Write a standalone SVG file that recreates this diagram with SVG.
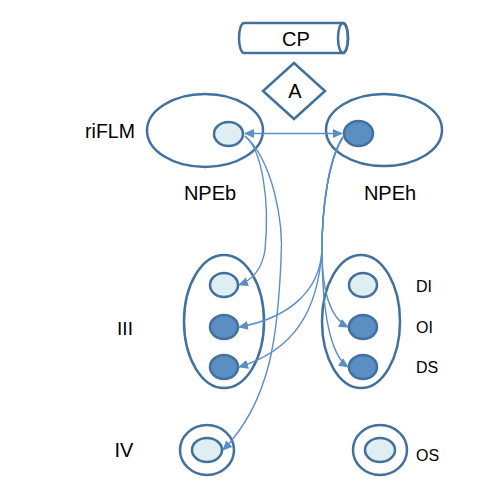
<svg xmlns="http://www.w3.org/2000/svg" width="500" height="493" viewBox="0 0 500 493">
<defs>
<style>
.o{fill:none;stroke:#41719c;stroke-width:2.5}
.lt{fill:#deeef3;stroke:#41719c;stroke-width:2.5}
.dk{fill:#5b8ec2;stroke:#41719c;stroke-width:2.5}
.c{fill:none;stroke:#5b8ec6;stroke-width:1.4}
.t{font-family:"Liberation Sans",Arial,sans-serif;fill:#000}
</style>
<marker id="ah" viewBox="0 0 10 10" refX="9" refY="5" markerWidth="10" markerHeight="10" markerUnits="userSpaceOnUse" orient="auto-start-reverse">
<path d="M0,0.5 L10,5 L0,9.5 Z" fill="#5b8ec6"/>
</marker>
</defs>
<rect width="500" height="493" fill="#fff"/>
<g id="CP">
<path class="o" fill="#fff" d="M244,23 L343,23 A5,15 0 0 1 343,53 L244,53 A5,15 0 0 1 244,23 Z"/>
<ellipse class="o" cx="343" cy="38" rx="5" ry="15"/>
<text class="t" x="296" y="46" font-size="20" text-anchor="middle">CP</text>
</g>
<g id="A">
<path class="o" d="M294,63 L325,91 L294,119 L263,91 Z"/>
<text class="t" x="295" y="98" font-size="20" text-anchor="middle">A</text>
</g>
<g id="riFLM-label"><text class="t" x="110" y="138" font-size="19.5" text-anchor="middle">riFLM</text></g>
<g id="NPEb">
<ellipse class="o" cx="205" cy="130.5" rx="58" ry="36.5"/>
<ellipse class="lt" cx="228.5" cy="134" rx="14.5" ry="12"/>
<text class="t" x="210" y="200" font-size="20" text-anchor="middle">NPEb</text>
</g>
<g id="NPEh">
<ellipse class="o" cx="384" cy="130" rx="58" ry="36"/>
<ellipse class="dk" cx="358.5" cy="133.5" rx="14.5" ry="12.5"/>
<text class="t" x="390" y="200" font-size="20" text-anchor="middle">NPEh</text>
</g>
<g id="III-left">
<ellipse class="o" cx="224" cy="321.5" rx="40" ry="66.5"/>
<ellipse class="lt" cx="224" cy="285" rx="14" ry="12"/>
<ellipse class="dk" cx="224" cy="327" rx="14" ry="12"/>
<ellipse class="dk" cx="224" cy="367" rx="14" ry="12"/>
</g>
<g id="III-right">
<ellipse class="o" cx="361" cy="321.5" rx="39" ry="66.5"/>
<ellipse class="lt" cx="363" cy="285" rx="14" ry="12"/>
<ellipse class="dk" cx="363" cy="327" rx="14" ry="12"/>
<ellipse class="dk" cx="363" cy="367" rx="14" ry="12"/>
</g>
<g id="IV-left">
<ellipse class="o" cx="207" cy="450" rx="27" ry="25"/>
<ellipse class="lt" cx="207" cy="450" rx="15" ry="12"/>
</g>
<g id="IV-right">
<ellipse class="o" cx="380" cy="450" rx="27" ry="25"/>
<ellipse class="lt" cx="380" cy="450" rx="15" ry="12"/>
</g>
<g id="labels">
<text class="t" x="125" y="335" font-size="19" text-anchor="middle">III</text>
<text class="t" x="124" y="457" font-size="20" text-anchor="middle">IV</text>
<text class="t" x="416" y="292" font-size="16">DI</text>
<text class="t" x="416" y="333" font-size="16">OI</text>
<text class="t" x="416" y="373" font-size="16">DS</text>
<text class="t" x="416" y="461" font-size="16">OS</text>
</g>
<g id="connectors">
<path class="c" d="M245,133.5 L342,133.5" marker-start="url(#ah)" marker-end="url(#ah)"/>
<path class="c" d="M245,136 C262,150 270,200 265,250 C262,270 252,280 239,285" marker-end="url(#ah)"/>
<path class="c" d="M245,136 C272,160 284,220 281,260 C278,330 272,400 223,450" marker-end="url(#ah)"/>
<path class="c" d="M343,137 C328,160 322,210 322,250 C320,290 290,318 239,327" marker-end="url(#ah)"/>
<path class="c" d="M343,137 C328,160 322,210 322,250 C318,310 295,350 239,367" marker-end="url(#ah)"/>
<path class="c" d="M343,137 C328,160 322,210 322,250 C322,290 330,318 348,327" marker-end="url(#ah)"/>
<path class="c" d="M343,137 C328,160 322,210 322,250 C322,310 330,355 348,367" marker-end="url(#ah)"/>
</g>
</svg>
